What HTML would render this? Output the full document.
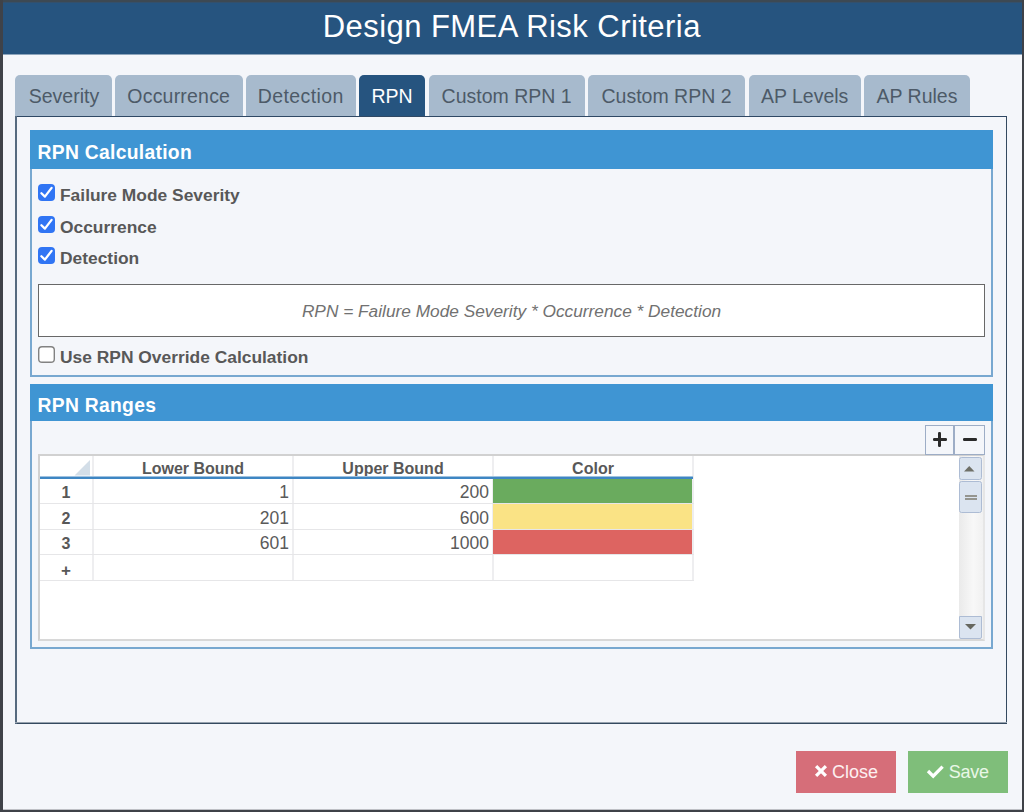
<!DOCTYPE html>
<html>
<head>
<meta charset="utf-8">
<title>Design FMEA Risk Criteria</title>
<style>
*{box-sizing:border-box;margin:0;padding:0}
html,body{width:1024px;height:812px;overflow:hidden;background:#3f4248;font-family:"Liberation Sans",sans-serif;}
.abs{position:absolute}
#dlg{position:absolute;left:3px;top:2px;width:1019px;height:808px;background:#f4f6fa;}
#hdr{position:absolute;left:0;top:0;width:1019px;height:53px;background:linear-gradient(#26547f 0,#26547f 52px,#8da5bc 52px,#8da5bc 53px);color:#fff;text-align:center;font-size:31px;letter-spacing:0.45px;line-height:50px;padding-right:1.5px;}
.tab{position:absolute;top:73px;height:42px;background:#a7bacd;color:#4d5a68;font-size:19.5px;line-height:42px;text-align:center;border-radius:5px 5px 0 0;white-space:nowrap}
.tab.on{background:#26547f;color:#fff}
#panel{position:absolute;left:12px;top:114px;width:992px;height:608px;border:1px solid #34495f;border-top-color:#2f4864;}
.sechdr{position:absolute;left:27px;width:963px;height:38px;background:#3f95d3;color:#fff;font-weight:bold;font-size:19.3px;letter-spacing:0.3px;line-height:38px;padding-left:7.5px;padding-top:2.5px;}
.secbody{position:absolute;left:27px;width:963px;border:2px solid #78a8d0;border-top:none;}
.cb{position:absolute;left:35px;width:17px;height:17px;border-radius:4px;background:#3075f4;}
.cb svg{position:absolute;left:0;top:0}
.cb.off{background:#fff;box-shadow:inset 0 0 0 1.4px #828282;border-radius:4px}
.lbl{position:absolute;left:57px;font-weight:bold;font-size:17.4px;color:#585858;line-height:20px;white-space:nowrap}
#formula{position:absolute;left:35px;top:282px;width:947px;height:53px;border:1px solid #686868;background:#fff;font-style:italic;color:#717171;font-size:17.3px;line-height:52px;text-align:center;}
.btn{position:absolute;top:749px;height:42px;width:100px;color:#fff;font-size:18px;line-height:42px;}

.pm{position:absolute;top:423px;height:29.5px;border:1px solid #9dadc6;background:#f4f6fa}
.pm i{position:absolute;background:#2a2a2a;border-radius:1.2px}
#grid{position:absolute;left:35px;top:452px;width:947px;height:187px;border:2px solid #d1d1d1;border-right-color:#e6e6e6;border-bottom-color:#d8d8d8;background:#fff;}
#grid>*{position:absolute}
.vl{width:2px;background:#eeeef0}
.hl{left:0;width:653.5px;height:1px;background:#e6e6e8}
.gh{top:1px;width:200px;height:22px;line-height:23px;text-align:center;font-weight:bold;font-size:16px;color:#585858}
.blue{left:0;top:20px;width:653px;height:3px;background:linear-gradient(#9fc2e0 0,#9fc2e0 1px,#3e86c3 1px,#3e86c3 100%)}
.col{left:453px;width:199px;height:24px}
.rn{left:0;width:52px;height:25px;line-height:25px;text-align:center;font-weight:bold;font-size:16px;color:#585858}
.gv{width:199.5px;height:25px;line-height:25px;text-align:right;padding-right:3.5px;font-size:17.5px;color:#5a5a5a}
#track{left:918.5px;top:0;width:24.5px;height:183px;background:linear-gradient(90deg,#eaeaea,#f8f8f8 60%,#f1f1f1)}
.sb{left:918.5px;width:23px;background:#dbe4f0;border:1px solid #adbcd4;border-radius:2.5px}
.sb i{position:absolute;left:5.5px;width:12px;height:2px;background:#95958f}
</style>
</head>
<body>
<div id="dlg">
  <div id="hdr">Design FMEA Risk Criteria</div>
  <div class="abs" style="left:0;top:0;width:1019px;height:1px;background:#33506c"></div>
  <div class="abs" style="left:0;top:-2px;width:1019px;height:2px;background:#3d4953"></div>
  <div class="abs" style="left:0;top:807px;width:1019px;height:1px;background:#bec0c5"></div>

  <div class="tab" style="left:12px;width:97px;padding-left:1px">Severity</div>
  <div class="tab" style="left:112px;width:127.5px;letter-spacing:0.2px">Occurrence</div>
  <div class="tab" style="left:243px;width:109.5px;letter-spacing:0.4px">Detection</div>
  <div class="tab on" style="left:356px;width:66px">RPN</div>
  <div class="tab" style="left:425.75px;width:155.75px">Custom RPN 1</div>
  <div class="tab" style="left:585px;width:157px">Custom RPN 2</div>
  <div class="tab" style="left:745.75px;width:111.75px">AP Levels</div>
  <div class="tab" style="left:861px;width:106px">AP Rules</div>

  <div id="panel"></div>
  <div class="abs" style="left:12px;top:114px;width:2px;height:608px;background:#566a7f"></div>
  <div class="abs" style="left:12px;top:720px;width:992px;height:1px;background:#97a2ae"></div>

  <!-- Section 1 -->
  <div class="sechdr" style="top:128px;height:39px;padding-top:3.5px">RPN Calculation</div>
  <div class="secbody" style="top:167px;height:208px"></div>

  <div class="cb" style="top:182px"><svg width="17" height="17" viewBox="0 0 17 17"><path d="M3.4 9.2 L6.9 12.6 L13.6 3.9" fill="none" stroke="#fff" stroke-width="2.3" stroke-linecap="round" stroke-linejoin="round"/></svg></div>
  <div class="lbl" style="top:182.5px">Failure Mode Severity</div>
  <div class="cb" style="top:214px"><svg width="17" height="17" viewBox="0 0 17 17"><path d="M3.4 9.2 L6.9 12.6 L13.6 3.9" fill="none" stroke="#fff" stroke-width="2.3" stroke-linecap="round" stroke-linejoin="round"/></svg></div>
  <div class="lbl" style="top:214.5px">Occurrence</div>
  <div class="cb" style="top:245px"><svg width="17" height="17" viewBox="0 0 17 17"><path d="M3.4 9.2 L6.9 12.6 L13.6 3.9" fill="none" stroke="#fff" stroke-width="2.3" stroke-linecap="round" stroke-linejoin="round"/></svg></div>
  <div class="lbl" style="top:246px">Detection</div>

  <div id="formula">RPN = Failure Mode Severity * Occurrence * Detection</div>

  <div class="cb off" style="top:344px"></div>
  <div class="lbl" style="top:344.5px">Use RPN Override Calculation</div>

  <!-- Section 2 -->
  <div class="sechdr" style="top:382px;height:37px;padding-top:2.5px">RPN Ranges</div>
  <div class="secbody" style="top:419px;height:228px"></div>


  <!-- grid -->
  <div id="grid">
    <div class="vl" style="left:52px;top:0;height:125px"></div>
    <div class="vl" style="left:252px;top:0;height:125px"></div>
    <div class="vl" style="left:452px;top:0;height:125px"></div>
    <div class="vl" style="left:652px;top:0;height:125px"></div>
    <div class="hl" style="top:47px"></div>
    <div class="hl" style="top:73px"></div>
    <div class="hl" style="top:98px"></div>
    <div class="hl" style="top:124px"></div>
    <svg class="abs" style="left:34px;top:4px" width="16" height="16" viewBox="0 0 16 16"><path d="M16 0 L16 15.5 L0.5 15.5 Z" fill="#d3dee8"/></svg>
    <div class="gh" style="left:53px">Lower Bound</div>
    <div class="gh" style="left:253px">Upper Bound</div>
    <div class="gh" style="left:453px">Color</div>
    <div class="blue"></div>
    <div class="col" style="top:23px;background:#6aab5e"></div>
    <div class="col" style="top:48px;height:25px;background:#fae385"></div>
    <div class="col" style="top:74px;background:#dd6461"></div>
    <div class="rn" style="top:24px">1</div>
    <div class="rn" style="top:49.5px">2</div>
    <div class="rn" style="top:75px">3</div>
    <div class="rn" style="top:101.5px;font-size:17px">+</div>
    <div class="gv" style="left:53px;top:23.5px">1</div>
    <div class="gv" style="left:253px;top:23.5px">200</div>
    <div class="gv" style="left:53px;top:49.5px">201</div>
    <div class="gv" style="left:253px;top:49.5px">600</div>
    <div class="gv" style="left:53px;top:75px">601</div>
    <div class="gv" style="left:253px;top:75px">1000</div>
    <div id="track"></div>
    <div class="sb" style="top:1px;height:22.5px"><svg class="abs" style="left:4.5px;top:8px" width="11" height="6" viewBox="0 0 11 6"><path d="M0 5.6 L5.25 0 L10.5 5.6 Z" fill="#6f7068"/></svg></div>
    <div class="sb" style="top:25px;height:32px"><i style="top:12.5px"></i><i style="top:15.5px"></i></div>
    <div class="sb" style="top:159.5px;height:23px;border-radius:0 0 2px 2px"><svg class="abs" style="left:5px;top:7.3px" width="11" height="6" viewBox="0 0 11 6"><path d="M0 0 L11 0 L5.5 5.4 Z" fill="#66675f"/></svg></div>
  </div>

  <!-- +/- buttons -->
  <div class="pm" style="left:922px;width:29px"><i style="left:6.9px;top:11.8px;width:14px;height:3px"></i><i style="left:12.4px;top:6.2px;width:3px;height:14.6px"></i></div>
  <div class="pm" style="left:951px;width:30.5px"><i style="left:7.7px;top:11.8px;width:14.2px;height:3px"></i></div>

  <!-- buttons -->
  <div class="btn" style="left:793px;background:#d66e79;">
    <svg class="abs" style="left:18px;top:13.4px" width="14" height="14" viewBox="0 0 14 14"><path d="M2.1 2.1 L11.9 11.9 M11.9 2.1 L2.1 11.9" stroke="#fff" stroke-width="3.2" stroke-linejoin="round" fill="none"/></svg>
    <span class="abs" style="left:36px;top:0;color:#fdf0f1">Close</span>
  </div>
  <div class="btn" style="left:904.5px;background:#7fbe7a;">
    <svg class="abs" style="left:17.5px;top:12px" width="20" height="16" viewBox="0 0 20 16"><path d="M3.0 8.0 L8.2 13.2 L17.6 3.6" stroke="#fff" stroke-width="3.3" fill="none"/></svg>
    <span class="abs" style="left:41.3px;top:0;letter-spacing:-0.3px;color:#e9f7e7">Save</span>
  </div>
</div>
</body>
</html>
